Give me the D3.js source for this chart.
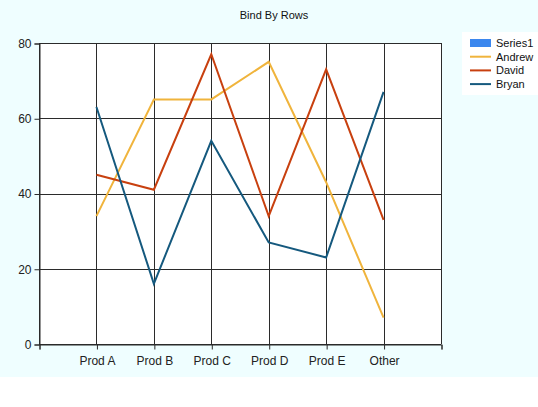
<!DOCTYPE html>
<html>
<head>
<meta charset="utf-8">
<script src="https://cdn.jsdelivr.net/npm/d3@7"></script>
<style>
html,body{margin:0;padding:0;background:#ffffff;}
svg{display:block;}
</style>
</head>
<body>
<script>
const categories = ["Prod A","Prod B","Prod C","Prod D","Prod E","Other"];
const andrew = [34,65,65,75,43,7];
const david  = [45,41,77,34,73,33];
const bryan  = [63,16,54,27,23,67];
const yTicks = [0,20,40,60,80];
const seriesNames = ["Andrew","David","Bryan"];
const seriesColors = ["#F0B43C","#C8400F","#15597E"];
const seriesData = [andrew, david, bryan];

(function(){
const W = 538, H = 407;
const svg = d3.select("body").append("svg").attr("width", W).attr("height", H);
svg.append("rect").attr("x",0).attr("y",0).attr("width",W).attr("height",377).attr("fill","#EFFEFF");

const pL = 39, pR = 441, pT = 43, pB = 344;
const x = d3.scaleLinear().domain([0, categories.length + 1]).range([pL, pR]);
const y = d3.scaleLinear().domain([0, 80]).range([pB, pT]);

svg.append("rect").attr("x",pL).attr("y",pT).attr("width",pR-pL).attr("height",pB-pT).attr("fill","#ffffff");

const font = "'Liberation Sans', Arial, sans-serif";
const gridColor = "#2b2b2b";

// gridlines
svg.append("g").selectAll("line").data(yTicks).join("line")
  .attr("x1",pL).attr("x2",pR).attr("y1",d=>Math.round(y(d))+0.5).attr("y2",d=>Math.round(y(d))+0.5)
  .attr("stroke",gridColor).attr("stroke-width",1);
svg.append("g").selectAll("line").data(d3.range(0, categories.length + 2)).join("line")
  .attr("x1",d=>Math.round(x(d))+0.5).attr("x2",d=>Math.round(x(d))+0.5).attr("y1",pT).attr("y2",pB)
  .attr("stroke",gridColor).attr("stroke-width",1);

// y axis
const yAxis = d3.axisLeft(y).tickValues(yTicks).tickSize(5).tickPadding(3);
const gy = svg.append("g").attr("transform",`translate(${pL+0.5},0.5)`).call(yAxis);
gy.select(".domain").attr("stroke",gridColor);
gy.selectAll(".tick line").attr("stroke",gridColor);
gy.selectAll("text").attr("font-family",font).attr("font-size",12).attr("fill","#222");

// x axis
const xAxis = d3.axisBottom(x).tickValues(d3.range(0, categories.length + 2))
  .tickFormat(d => (d>=1 && d<=categories.length) ? categories[d-1] : "").tickSize(5).tickPadding(7);
const gx = svg.append("g").attr("transform",`translate(0.5,${pB+0.5})`).call(xAxis);
gx.select(".domain").attr("stroke",gridColor);
gx.selectAll(".tick line").attr("stroke",gridColor);
gx.selectAll("text").attr("font-family",font).attr("font-size",12).attr("fill","#222");

// lines
const line = d3.line().x((d,i)=>x(i+1)).y(d=>y(d));
seriesData.forEach((s,k)=>{
  svg.append("path").datum(s).attr("d",line).attr("fill","none")
    .attr("stroke",seriesColors[k]).attr("stroke-width",2).attr("stroke-linejoin","miter");
});

// title
svg.append("text").attr("x",274).attr("y",19).attr("text-anchor","middle")
  .attr("font-family",font).attr("font-size",11).attr("fill","#111").text("Bind By Rows");

// legend
const lg = svg.append("g");
lg.append("rect").attr("x",462).attr("y",32).attr("width",76).attr("height",63).attr("fill","#ffffff");
const legendItems = ["Series1"].concat(seriesNames);
legendItems.forEach((name,i)=>{
  const cy = 43 + i*13.7;
  if(i===0){
    lg.append("rect").attr("x",470).attr("y",cy-4).attr("width",21).attr("height",8).attr("fill","#3B87EE");
  } else {
    lg.append("line").attr("x1",470).attr("x2",491).attr("y1",cy).attr("y2",cy)
      .attr("stroke",seriesColors[i-1]).attr("stroke-width",2);
  }
  lg.append("text").attr("x",496).attr("y",cy+4).attr("font-family",font).attr("font-size",11)
    .attr("fill","#111").text(name);
});
})();
</script>
</body>
</html>
